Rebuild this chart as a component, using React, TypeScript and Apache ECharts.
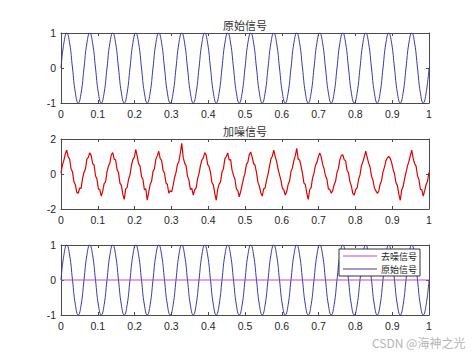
import React, { useEffect, useRef } from "react";
import * as echarts from "echarts";

// Original signal, 8 samples per cycle, 16 cycles over [0, 1]
const originalSignal: number[] = [
  0, 0.71, 1, 0.71, 0, -0.71, -1, -0.71,
  0, 0.71, 1, 0.71, 0, -0.71, -1, -0.71,
  0, 0.71, 1, 0.71, 0, -0.71, -1, -0.71,
  0, 0.71, 1, 0.71, 0, -0.71, -1, -0.71,
  0, 0.71, 1, 0.71, 0, -0.71, -1, -0.71,
  0, 0.71, 1, 0.71, 0, -0.71, -1, -0.71,
  0, 0.71, 1, 0.71, 0, -0.71, -1, -0.71,
  0, 0.71, 1, 0.71, 0, -0.71, -1, -0.71,
  0, 0.71, 1, 0.71, 0, -0.71, -1, -0.71,
  0, 0.71, 1, 0.71, 0, -0.71, -1, -0.71,
  0, 0.71, 1, 0.71, 0, -0.71, -1, -0.71,
  0, 0.71, 1, 0.71, 0, -0.71, -1, -0.71,
  0, 0.71, 1, 0.71, 0, -0.71, -1, -0.71,
  0, 0.71, 1, 0.71, 0, -0.71, -1, -0.71,
  0, 0.71, 1, 0.71, 0, -0.71, -1, -0.71,
  0, 0.71, 1, 0.71, 0, -0.71, -1, -0.71,
  0,
];

// Noisy signal, 16 samples per cycle
const noisySignal: number[] = [
  0.05, 0.52, 0.78, 1.15, 1.37, 0.98, 0.85, 0.30, 0.12, -0.45, -0.62, -1.05, -1.10, -0.80, -0.82, -0.25,
  0.10, 0.28, 0.85, 0.95, 1.22, 1.05, 0.60, 0.52, -0.10, -0.28, -0.85, -0.90, -1.26, -0.98, -0.55, -0.45,
  0.12, 0.45, 0.62, 1.10, 1.22, 0.85, 0.80, 0.25, 0.08, -0.52, -0.65, -1.15, -1.45, -0.85, -0.78, -0.30,
  -0.05, 0.50, 0.82, 0.95, 1.40, 1.02, 0.58, 0.45, -0.15, -0.30, -0.90, -0.85, -1.50, -1.05, -0.60, -0.42,
  0.15, 0.30, 0.85, 1.05, 1.30, 0.88, 0.78, 0.20, 0.05, -0.50, -0.60, -1.10, -0.95, -1.02, -0.65, -0.20,
  0.08, 0.55, 0.70, 1.20, 1.75, 0.95, 0.62, 0.48, -0.12, -0.35, -0.88, -0.82, -1.20, -0.90, -0.80, -0.28,
  0.02, 0.48, 0.80, 0.92, 1.22, 1.08, 0.55, 0.42, 0.10, -0.50, -0.62, -1.12, -1.50, -0.88, -0.58, -0.45,
  0.12, 0.30, 0.88, 1.00, 1.20, 0.80, 0.82, 0.22, -0.08, -0.30, -0.85, -0.95, -1.30, -1.00, -0.62, -0.25,
  0.05, 0.55, 0.68, 1.12, 1.25, 0.95, 0.60, 0.50, 0.08, -0.48, -0.70, -1.08, -1.26, -0.85, -0.80, -0.35,
  -0.02, 0.42, 0.85, 1.02, 1.37, 1.00, 0.72, 0.28, -0.05, -0.35, -0.82, -0.90, -1.20, -1.02, -0.60, -0.40,
  0.15, 0.35, 0.78, 1.05, 1.47, 0.85, 0.80, 0.45, 0.02, -0.52, -0.60, -1.10, -1.45, -0.90, -0.78, -0.22,
  0.05, 0.50, 0.65, 0.98, 1.20, 0.98, 0.55, 0.30, -0.10, -0.30, -0.85, -0.88, -1.10, -0.95, -0.62, -0.42,
  0.10, 0.32, 0.82, 1.05, 1.10, 0.82, 0.75, 0.22, 0.06, -0.45, -0.68, -1.12, -1.20, -0.88, -0.80, -0.30,
  -0.05, 0.48, 0.70, 0.98, 1.30, 0.95, 0.62, 0.40, -0.12, -0.35, -0.80, -0.95, -1.10, -1.00, -0.58, -0.38,
  0.12, 0.38, 0.75, 0.92, 1.00, 0.90, 0.65, 0.28, 0.00, -0.50, -0.65, -1.15, -1.50, -0.92, -0.72, -0.28,
  0.08, 0.45, 0.72, 1.05, 1.37, 0.88, 0.60, 0.45, -0.10, -0.32, -0.88, -0.90, -1.26, -0.95, -0.60, -0.40,
  0.10,
];

// Denoised signal (flat at zero)
const denoisedSignal: number[] = [0, 0];

const xTickInterval = 0.1;
const titles = ["原始信号", "加噪信号"];
const legendNames = ["去噪信号", "原始信号"];

const BLUE = "#3838a8";
const RED = "#e00000";
const PURPLE = "#b84cc4";
const AXIS = "#4a4a4a";
const LABEL = "#262626";

const toPairs = (vals: number[]) => vals.map((v, i) => [i / (vals.length - 1), v]);

export default function App() {
  const ref = useRef<HTMLDivElement>(null);

  useEffect(() => {
    if (!ref.current) return;
    const chart = echarts.init(ref.current, undefined, { renderer: "svg" });

    const tops = [33, 139, 245];
    const yRanges = [
      { min: -1, max: 1, interval: 1 },
      { min: -2, max: 2, interval: 2 },
      { min: -1, max: 1, interval: 1 },
    ];
    const grids = tops.map((t) => ({ left: 61, right: 45, top: t, height: 70 }));

    const tick = { show: true, inside: true, length: 3, lineStyle: { color: AXIS } };
    const line = { show: true, onZero: false, lineStyle: { color: AXIS, width: 1 } };
    const label = { color: LABEL, fontSize: 10.5, fontFamily: "Liberation Sans", margin: 5 };

    const xAxes: any[] = [];
    const yAxes: any[] = [];
    tops.forEach((_, i) => {
      xAxes.push({
        type: "value", gridIndex: i, min: 0, max: 1, interval: xTickInterval, position: "bottom",
        axisLine: line, axisTick: tick, axisLabel: label, splitLine: { show: false },
      });
      xAxes.push({
        type: "value", gridIndex: i, min: 0, max: 1, interval: xTickInterval, position: "top",
        axisLine: line, axisTick: tick, axisLabel: { show: false }, splitLine: { show: false },
      });
      yAxes.push({
        type: "value", gridIndex: i, ...yRanges[i], position: "left",
        axisLine: line, axisTick: tick, axisLabel: label, splitLine: { show: false },
      });
      yAxes.push({
        type: "value", gridIndex: i, ...yRanges[i], position: "right",
        axisLine: line, axisTick: tick, axisLabel: { show: false }, splitLine: { show: false },
      });
    });

    const lineCommon = { type: "line", symbol: "none", showSymbol: false, smooth: false, silent: true };

    chart.setOption({
      animation: false,
      backgroundColor: "#ffffff",
      grid: grids,
      xAxis: xAxes,
      yAxis: yAxes,
      legend: {
        data: legendNames.map((n) => ({ name: n, icon: "rect" })),
        orient: "vertical",
        left: 339,
        top: 249,
        itemWidth: 34,
        itemHeight: 1.2,
        itemGap: 3,
        padding: [2, 3, 2, 4],
        borderColor: "#333",
        borderWidth: 1,
        borderRadius: 0,
        backgroundColor: "#ffffff",
        textStyle: { fontSize: 9, lineHeight: 10, fontFamily: "Noto Sans CJK SC", color: "#222", padding: [0, 0, 0, -1] },
      },
      graphic: [
        {
          type: "text", x: 245, y: 25,
          style: { text: titles[0], align: "center", verticalAlign: "middle", font: "11px 'Noto Sans CJK SC'", fill: "#333" },
        },
        {
          type: "text", x: 245, y: 131,
          style: { text: titles[1], align: "center", verticalAlign: "middle", font: "11px 'Noto Sans CJK SC'", fill: "#333" },
        },
        {
          type: "text", x: 372, y: 342,
          style: { text: "CSDN @海神之光", align: "left", verticalAlign: "middle", font: "12px 'Noto Sans CJK SC'", fill: "#b4b4b4" },
        },
      ],
      series: [
        {
          ...lineCommon, name: "原始信号顶部", xAxisIndex: 0, yAxisIndex: 0, smooth: true,
          data: toPairs(originalSignal), lineStyle: { color: BLUE, width: 1 }, itemStyle: { color: BLUE },
        },
        {
          ...lineCommon, name: "加噪信号", xAxisIndex: 2, yAxisIndex: 2,
          data: toPairs(noisySignal), lineStyle: { color: RED, width: 1.2 }, itemStyle: { color: RED },
        },
        {
          ...lineCommon, name: "原始信号", xAxisIndex: 4, yAxisIndex: 4, smooth: true,
          data: toPairs(originalSignal), lineStyle: { color: BLUE, width: 1 }, itemStyle: { color: BLUE },
        },
        {
          ...lineCommon, name: "去噪信号", xAxisIndex: 4, yAxisIndex: 4,
          data: toPairs(denoisedSignal), lineStyle: { color: PURPLE, width: 1.2 }, itemStyle: { color: PURPLE },
        },
      ],
    });

    return () => chart.dispose();
  }, []);

  return (
    <div
      ref={ref}
      style={{ position: "fixed", left: 0, top: 0, width: 474, height: 355, background: "#fff" }}
    />
  );
}
